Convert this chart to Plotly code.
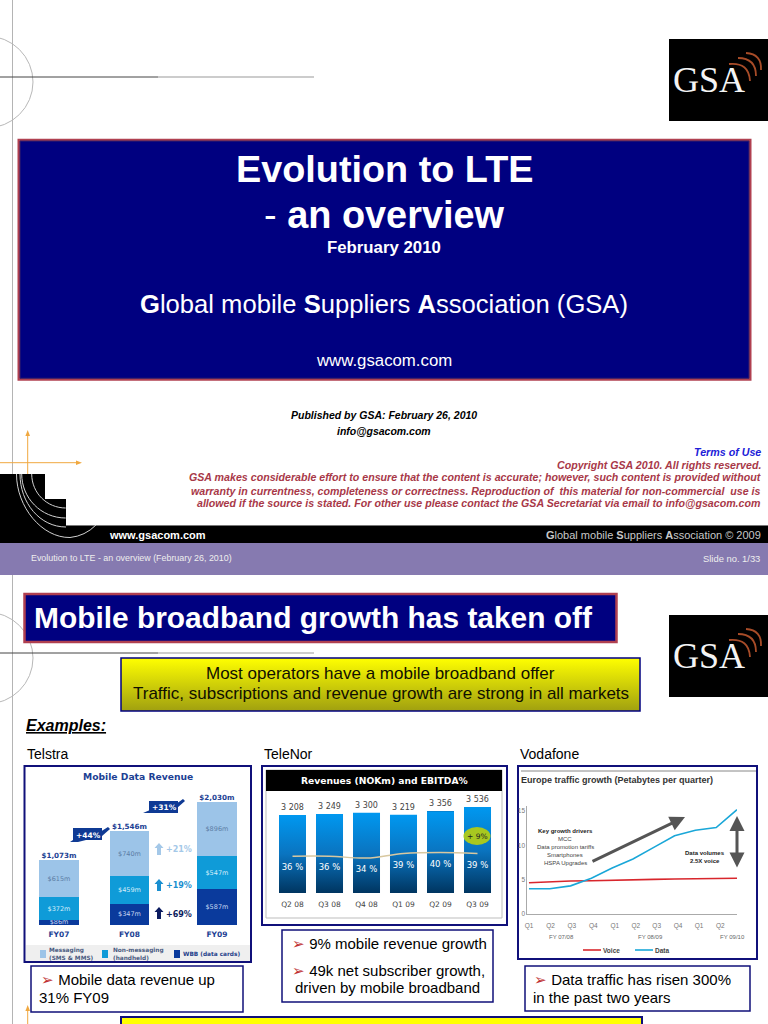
import plotly.graph_objects as go

# ---------- chart data ----------
TELSTRA_YEARS = ["FY07", "FY08", "FY09"]
TELSTRA_POS = [0, 1, 2.24]
TELSTRA_WBB = [86, 347, 587]
TELSTRA_NON_MSG = [372, 459, 547]
TELSTRA_MSG = [615, 740, 896]
TELSTRA_TOTAL_LABELS = ["$1,073m", "$1,546m", "$2,030m"]

TELENOR_QUARTERS = ["Q2 08", "Q3 08", "Q4 08", "Q1 09", "Q2 09", "Q3 09"]
TELENOR_REVENUE = [3208, 3249, 3300, 3219, 3356, 3536]
TELENOR_REV_LABELS = ["3 208", "3 249", "3 300", "3 219", "3 356", "3 536"]
TELENOR_EBITDA = [36, 36, 34, 39, 40, 39]

VODA_PERIODS = list(range(11))
VODA_VOICE = [4.55, 4.7, 4.8, 4.85, 4.95, 5.05, 5.05, 5.1, 5.15, 5.2, 5.2]
VODA_DATA = [3.67, 3.67, 4.1, 5.2, 6.7, 8.0, 9.7, 11.4, 12.2, 12.6, 15.2]
VODA_TICKS = [0, 1.04, 2.06, 3.09, 4.13, 5.14, 6.14, 7.17, 8.18, 9.2]
VODA_TICK_LABELS = ["Q1", "Q2", "Q3", "Q4", "Q1", "Q2", "Q3", "Q4", "Q1", "Q2"]

W, H = 768, 1024
SANS = "Liberation Sans"
VERD = "DejaVu Sans"
NAVY = "#000080"
FRAME = "#10107a"
RED = "#a83848"

shapes, annos, traces = [], [], []


def dom(top, bottom):
    return [1 - bottom / H, 1 - top / H]


def xdom(left, right):
    return [left / W, right / W]


def rect(x0, y0, x1, y1, fill="rgba(0,0,0,0)", line=None, lw=1, layer="below"):
    shapes.append(dict(type="rect", xref="x", yref="y", x0=x0, y0=y0, x1=x1, y1=y1,
                       fillcolor=fill, layer=layer,
                       line=dict(color=line or "rgba(0,0,0,0)", width=lw if line else 0)))


def seg(x0, y0, x1, y1, color, lw=1, layer="below"):
    shapes.append(dict(type="line", xref="x", yref="y", x0=x0, y0=y0, x1=x1, y1=y1,
                       layer=layer, line=dict(color=color, width=lw)))


def path(d, fill=None, line=None, lw=1, layer="below"):
    shapes.append(dict(type="path", xref="x", yref="y", path=d, layer=layer,
                       fillcolor=fill or "rgba(0,0,0,0)",
                       line=dict(color=line or "rgba(0,0,0,0)", width=lw if line else 0)))


def txt(x, y, s, size, color="#000", anchor="center", family=SANS):
    annos.append(dict(xref="x", yref="y", x=x, y=y, text=s, showarrow=False,
                      xanchor=anchor, yanchor="middle", borderpad=0, borderwidth=0,
                      font=dict(family=family, size=size, color=color)))


def grad_rect(x0, y0, x1, y1, top, bottom):
    traces.append(go.Scatter(x=[x0, x1, x1, x0, x0], y=[y0, y0, y1, y1, y0], xaxis="x", yaxis="y",
                             mode="none", fill="toself", hoverinfo="skip", showlegend=False,
                             fillgradient=dict(type="vertical",
                                               colorscale=[[0, bottom], [1, top]])))


def logo(dy):
    rect(669, 39 + dy, 768, 121 + dy, fill="#000000")
    txt(709, 80 + dy, "GSA", 36, "#f4f4f4", family="Liberation Serif")
    for d in (f"M746,{53+dy} Q762,{54+dy} 761,{70+dy}",
              f"M738,{58+dy} Q756,{58+dy} 756,{76+dy}",
              f"M729,{64+dy} Q749,{62+dy} 750,{81+dy}"):
        path(d, line="#a84c28", lw=1.8)


def deco(dy):
    shapes.append(dict(type="circle", xref="x", yref="y", x0=-60, x1=33, y0=36 + dy, y1=128 + dy,
                       layer="below", line=dict(color="#b8b8b8", width=1), fillcolor="rgba(0,0,0,0)"))
    seg(0, 77 + dy, 158, 77 + dy, "#444444", 1)
    seg(158, 77 + dy, 314, 77 + dy, "#999999", 1)


def up_arrow(cx, cy, color, w=9, h=12):
    hw, hh = w / 2, h / 2
    sw = w / 4.5
    path(f"M{cx},{cy-hh} L{cx+hw},{cy-hh+5} L{cx+sw},{cy-hh+5} L{cx+sw},{cy+hh} "
         f"L{cx-sw},{cy+hh} L{cx-sw},{cy-hh+5} L{cx-hw},{cy-hh+5} Z", fill=color, layer="above")


# ---------- slide 1 ----------
rect(12, 0, 13, 474, fill="#b4b4b4")
deco(0)
logo(0)
rect(17.5, 138.7, 751.5, 380.7, fill="#b04050")
rect(20, 141, 749, 378.3, fill=NAVY, line="#3a2068", lw=1)
txt(384, 169, "<b>Evolution to LTE</b>", 37.8, "#ffffff")
txt(384, 215, "- <b>an overview</b>", 37.9, "#ffffff")
txt(384, 247, "<b>February 2010</b>", 16.8, "#ffffff")
txt(384, 304, "<b>G</b>lobal mobile <b>S</b>uppliers <b>A</b>ssociation (GSA)", 25.6, "#ffffff")
txt(384, 360, "www.gsacom.com", 16.8, "#ffffff")

txt(384, 415, "<b><i>Published by GSA: February 26, 2010</i></b>", 10.5, "#000000")
txt(384, 431, "<b><i>info@gsacom.com</i></b>", 10.5, "#000000")
txt(761, 452, "<b><i>Terms of Use</i></b>", 10.7, "#2020d8", "right")
for yy, line_text in [(465, "Copyright GSA 2010. All rights reserved."),
                      (477, "GSA makes considerable effort to ensure that the content is accurate; however, such content is provided without"),
                      (491, "warranty in currentness, completeness or correctness. Reproduction of  this material for non-commercial  use is"),
                      (503, "allowed if the source is stated. For other use please contact the GSA Secretariat via email to info@gsacom.com")]:
    txt(761, yy, f"<b><i>{line_text}</i></b>", 10.65, RED, "right")

# orange cross and footer
seg(27.7, 434, 27.7, 475, "#f0a840", 1)
path("M27.7,430 L30,436 L25.4,436 Z", fill="#f0a840")
seg(0, 462.7, 78, 462.7, "#f0a840", 1)
path("M82,462.7 L76,460.4 L76,465 Z", fill="#f0a840")
path("M0,474 L45,474 L45,499 L66,499 L66,525.7 L768,525.7 L768,543 L0,543 Z", fill="#000000")
seg(66, 525.5, 768, 525.5, "#777777", 1)
for d in ("M31.7,474 C31.7,493 47,508 65.7,508",
          "M21.7,474 C21.7,498 41,518 65.7,518",
          "M20,474 C20,503 40,527 66,527",
          "M16.5,474 C16.5,507 42,538 70,537.5 Q85,536 96,525"):
    path(d, line="#d0d0d0", lw=1)
txt(109, 535, "<b>www.gsacom.com</b>", 11, "#ffffff", "left")
txt(761, 535, "<b>G</b>lobal mobile <b>S</b>uppliers <b>A</b>ssociation © 2009", 11, "#c8c8c8", "right")
rect(0, 543, 768, 575, fill="#867ab0")
txt(31, 558, "Evolution to LTE - an overview (February 26, 2010)", 8.9, "#eeeeee", "left")
txt(760, 558, "Slide no. 1/33", 9.4, "#eeeeee", "right")

# ---------- slide 2 ----------
rect(12, 575, 13, 1024, fill="#b4b4b4")
deco(576)
logo(576)
rect(24.5, 594, 616.5, 642, fill=NAVY, line="#b04050", lw=2.5)
txt(34, 617, "<b>Mobile broadband growth has taken off</b>", 29.9, "#ffffff", "left")
grad_rect(121, 658, 640, 711, "#ffff00", "#a0a010")
rect(121, 658, 640, 711, line=NAVY, lw=1.5, layer="above")
txt(380.5, 673, "Most operators have a mobile broadband offer", 17, "#101000")
txt(380.5, 693, "Traffic, subscriptions and revenue growth are strong in all markets", 17, "#101000")
txt(26, 725, "<b><i><u>Examples:</u></i></b>", 16, "#000000", "left")
txt(27, 754, "Telstra", 14, "#000000", "left")
txt(264, 754, "TeleNor", 14, "#000000", "left")
txt(520, 754, "Vodafone", 14, "#000000", "left")

# chart frames
rect(24.5, 766, 251, 962, fill="#ffffff", line=FRAME, lw=2)
rect(262, 766, 507, 925, fill="#ffffff", line=FRAME, lw=2)
rect(518, 766, 757, 959, fill="#ffffff", line=FRAME, lw=2)

# text boxes
ARROW = "<span style='color:#c03030'>➢</span> "
rect(31, 966, 243, 1012, fill="#ffffff", line=FRAME, lw=1.5)
txt(41, 979, ARROW + "Mobile data revenue up", 15, "#000", "left")
txt(39, 997, "31% FY09", 15, "#000", "left")
rect(282, 930, 493, 1002, fill="#ffffff", line=FRAME, lw=1.5)
txt(292, 943, ARROW + "9% mobile revenue growth", 15, "#000", "left")
txt(292, 970, ARROW + "49k net subscriber growth,", 15, "#000", "left")
txt(295, 987, "driven by mobile broadband", 15, "#000", "left")
rect(525, 966, 750, 1011, fill="#ffffff", line=FRAME, lw=1.5)
txt(534, 979, ARROW + "Data traffic has risen 300%", 15, "#000", "left")
txt(533, 997, "in the past two years", 15, "#000", "left")
rect(121, 1017, 642, 1030, fill="#ffff00", line=FRAME, lw=2)
seg(27.7, 1009, 27.7, 1024, "#f0a840", 1)
path("M27.7,1005 L30,1011 L25.4,1011 Z", fill="#f0a840")

# ---------- Telstra ----------
C_MSG, C_NON, C_WBB = "#9cc4e8", "#0f9bd8", "#0a3a9c"
T_INK = "#1c3f94"
for vals, col, tcol in [(TELSTRA_WBB, C_WBB, "#c4d4f0"), (TELSTRA_NON_MSG, C_NON, "#d4ecf8"), (TELSTRA_MSG, C_MSG, "#5d7ea6")]:
    traces.append(go.Bar(x=TELSTRA_POS, y=vals, width=0.567, marker=dict(color=col, line=dict(width=0)),
                         text=[f"${v}m" for v in vals], textposition="inside", insidetextanchor="middle",
                         textangle=0, constraintext="none", cliponaxis=False,
                         insidetextfont=dict(family=VERD, size=6.5, color=tcol),
                         xaxis="x2", yaxis="y2", showlegend=False, hoverinfo="skip"))
totals = [a + b + c for a, b, c in zip(TELSTRA_WBB, TELSTRA_NON_MSG, TELSTRA_MSG)]
traces.append(go.Scatter(x=TELSTRA_POS, y=totals, mode="text", text=[f"<b>{s}</b>" for s in TELSTRA_TOTAL_LABELS],
                         textposition="top center", textfont=dict(family=VERD, size=7.2, color=T_INK),
                         xaxis="x2", yaxis="y2", showlegend=False, hoverinfo="skip", cliponaxis=False))
txt(138, 776, "<b>Mobile Data Revenue</b>", 9.2, T_INK, family=VERD)
path("M73,828 L102,828 L102,840 L73,840 Z", fill="#0f3a94", layer="above")
path("M70,842 L76,838 L100,832 L108,827 L110,829 L102,836 L78,842 Z", fill="#0f3a94", layer="above")
txt(88, 835, "<b>+44%</b>", 7.5, "#ffffff", family=VERD)
path("M149,801 L178,801 L178,813 L149,813 Z", fill="#0f3a94", layer="above")
path("M143,813 L150,810 L176,804 L183,799 L185,801 L177,808 L152,813 Z", fill="#0f3a94", layer="above")
txt(164, 807, "<b>+31%</b>", 7.5, "#ffffff", family=VERD)
up_arrow(159, 849, "#a4c8e8")
txt(179, 849, "<b>+21%</b>", 8, "#a4c8e8", family=VERD)
up_arrow(159, 885, "#1a8fd0")
txt(179, 885, "<b>+19%</b>", 8, "#1a8fd0", family=VERD)
up_arrow(159, 913, "#0c1c60")
txt(179, 914, "<b>+69%</b>", 8, "#0c1c60", family=VERD)
rect(26, 945, 250, 961, fill="#efefef")
for x_, col in [(43, C_MSG), (105, C_NON), (177, C_WBB)]:
    rect(x_ - 3, 950, x_ + 3, 958, fill=col)
txt(49, 950, "<b>Messaging</b>", 5.8, "#4a5a80", "left", VERD)
txt(49, 957.5, "<b>(SMS &amp; MMS)</b>", 5.8, "#4a5a80", "left", VERD)
txt(113, 950, "<b>Non-messaging</b>", 5.8, "#4a5a80", "left", VERD)
txt(113, 957.5, "<b>(handheld)</b>", 5.8, "#4a5a80", "left", VERD)
txt(183, 954, "<b>WBB (data cards)</b>", 5.8, "#24408a", "left", VERD)

# ---------- TeleNor ----------
rect(266, 770, 502, 918, fill="#ffffff", line="#bdbdbd", lw=1)
rect(266, 770, 502, 791, fill="#000000")
txt(384, 780.5, "<b>Revenues (NOKm) and EBITDA%</b>", 9.2, "#ffffff", family=VERD)
BAR_W = 0.73
traces.append(go.Bar(x=list(range(6)), y=TELENOR_REVENUE, width=BAR_W,
                     marker=dict(color="#0a70b8", line=dict(width=0)),
                     text=TELENOR_REV_LABELS, textposition="outside", cliponaxis=False,
                     outsidetextfont=dict(family=VERD, size=8, color="#444444"),
                     xaxis="x3", yaxis="y3", showlegend=False, hoverinfo="skip"))
for i, v in enumerate(TELENOR_REVENUE):
    traces.append(go.Scatter(x=[i - BAR_W / 2, i + BAR_W / 2, i + BAR_W / 2, i - BAR_W / 2, i - BAR_W / 2],
                             y=[0, 0, v, v, 0], mode="none", fill="toself", xaxis="x3", yaxis="y3",
                             showlegend=False, hoverinfo="skip",
                             fillgradient=dict(type="vertical",
                                               colorscale=[[0, "#003560"], [0.5, "#0a74c0"], [1, "#0098f0"]])))
traces.append(go.Scatter(x=list(range(6)), y=TELENOR_EBITDA, mode="lines+markers+text",
                         line=dict(color="#d8c8a0", width=1.5, shape="spline"),
                         marker=dict(size=11, opacity=0),
                         text=[f"{v} %" for v in TELENOR_EBITDA], textposition="bottom center",
                         textfont=dict(family=VERD, size=8.5, color="#ffffff"),
                         xaxis="x3", yaxis="y4", showlegend=False, hoverinfo="skip"))
shapes.append(dict(type="circle", xref="x", yref="y", x0=463.5, x1=490.5, y0=827, y1=845, layer="above",
                   fillcolor="#a8c820", line=dict(width=0)))
txt(477, 836, "+ 9%", 7.5, "#222222", family=VERD)

# ---------- Vodafone ----------
traces.append(go.Scatter(x=VODA_PERIODS, y=VODA_VOICE, mode="lines", line=dict(color="#d8262c", width=1.6),
                         xaxis="x4", yaxis="y5", showlegend=False, hoverinfo="skip"))
traces.append(go.Scatter(x=VODA_PERIODS, y=VODA_DATA, mode="lines", line=dict(color="#1aa7d8", width=1.6),
                         xaxis="x4", yaxis="y5", showlegend=False, hoverinfo="skip"))
seg(521, 771, 756, 771, "#888888", 1)
txt(521, 780, "<b>Europe traffic growth (Petabytes per quarter)</b>", 9, "#333333", "left")
txt(565, 831, "<b>Key growth drivers</b>", 6, "#222222")
for yy, s in [(839, "MCC"), (847, "Data promotion tariffs"), (855, "Smartphones"), (863, "HSPA Upgrades")]:
    txt(565, yy, s, 6, "#444444")
txt(705, 853, "<b>Data volumes</b>", 6, "#222222")
txt(705, 861, "<b>2.5X voice</b>", 6, "#222222")
annos.append(dict(xref="x", yref="y", axref="x", ayref="y", x=685, y=817, ax=591, ay=862, text="",
                  showarrow=True, arrowhead=2, arrowsize=1, arrowwidth=3, arrowcolor="#555555"))
annos.append(dict(xref="x", yref="y", axref="x", ayref="y", x=737, y=816, ax=737, ay=869, text="",
                  showarrow=True, arrowhead=2, arrowside="end+start", arrowsize=1, arrowwidth=3, arrowcolor="#555555"))
for x_, s in [(561, "FY 07/08"), (650, "FY 08/09"), (732, "FY 09/10")]:
    txt(x_, 937, s, 6, "#666666")
seg(583, 950, 601, 950, "#d8262c", 1.6)
txt(603, 950.5, "<b>Voice</b>", 6.5, "#444444", "left")
seg(635, 950, 653, 950, "#1aa7d8", 1.6)
txt(655, 950.5, "<b>Data</b>", 6.5, "#444444", "left")

# ---------- layout ----------
hidden = dict(visible=False, showgrid=False, zeroline=False)
layout = dict(
    width=W, height=H, autosize=False, margin=dict(l=0, r=0, t=0, b=0, pad=0, autoexpand=False),
    paper_bgcolor="#ffffff", plot_bgcolor="rgba(0,0,0,0)", showlegend=False, barmode="stack",
    hovermode=False, shapes=shapes, annotations=annos,
    xaxis=dict(domain=[0, 1], range=[0, W], **hidden),
    yaxis=dict(domain=[0, 1], range=[H, 0], **hidden),
    xaxis2=dict(domain=xdom(30, 245), range=[(30 - 59) / 70.5, (245 - 59) / 70.5], anchor="y2",
                tickmode="array", tickvals=TELSTRA_POS, ticktext=[f"<b>{s}</b>" for s in TELSTRA_YEARS],
                tickfont=dict(family=VERD, size=7.5, color=T_INK), ticks="", showgrid=False, zeroline=False,
                ticklabelstandoff=3),
    yaxis2=dict(domain=dom(790, 925), range=[0, 135 / 0.0606], anchor="x2", **hidden),
    xaxis3=dict(domain=xdom(270, 500), range=[(270 - 292.5) / 37, (500 - 292.5) / 37], anchor="y3",
                tickmode="array", tickvals=list(range(6)), ticktext=TELENOR_QUARTERS,
                tickfont=dict(family=VERD, size=7.5, color="#444444"), ticks="", showgrid=False, zeroline=False,
                ticklabelstandoff=5),
    yaxis3=dict(domain=dom(795, 893), range=[0, 98 / 0.0243], anchor="x3", **hidden),
    yaxis4=dict(domain=dom(795, 893), range=[-4, 102.5], anchor="x3", overlaying="y3", **hidden),
    xaxis4=dict(domain=xdom(527.3, 737), range=[-0.08, 10], anchor="y5",
                tickmode="array", tickvals=VODA_TICKS, ticktext=VODA_TICK_LABELS,
                tickfont=dict(family=SANS, size=6.5, color="#777777"), ticks="", showgrid=False, zeroline=False,
                showline=True, linecolor="#aaaaaa", linewidth=1, ticklabelstandoff=5),
    yaxis5=dict(domain=dom(806, 914), range=[0, 15.73], anchor="x4", tickmode="array",
                tickvals=[0, 5, 10, 15], tickfont=dict(family=SANS, size=6.5, color="#777777"), ticks="",
                showgrid=False, zeroline=False, showline=True, linecolor="#aaaaaa", linewidth=1),
)
fig = go.Figure(data=traces, layout=layout)
fig.write_html("out.html", config=dict(displayModeBar=False),
               post_script="document.body.style.margin='0';document.body.style.overflow='hidden';window.dispatchEvent(new Event('resize'));")
